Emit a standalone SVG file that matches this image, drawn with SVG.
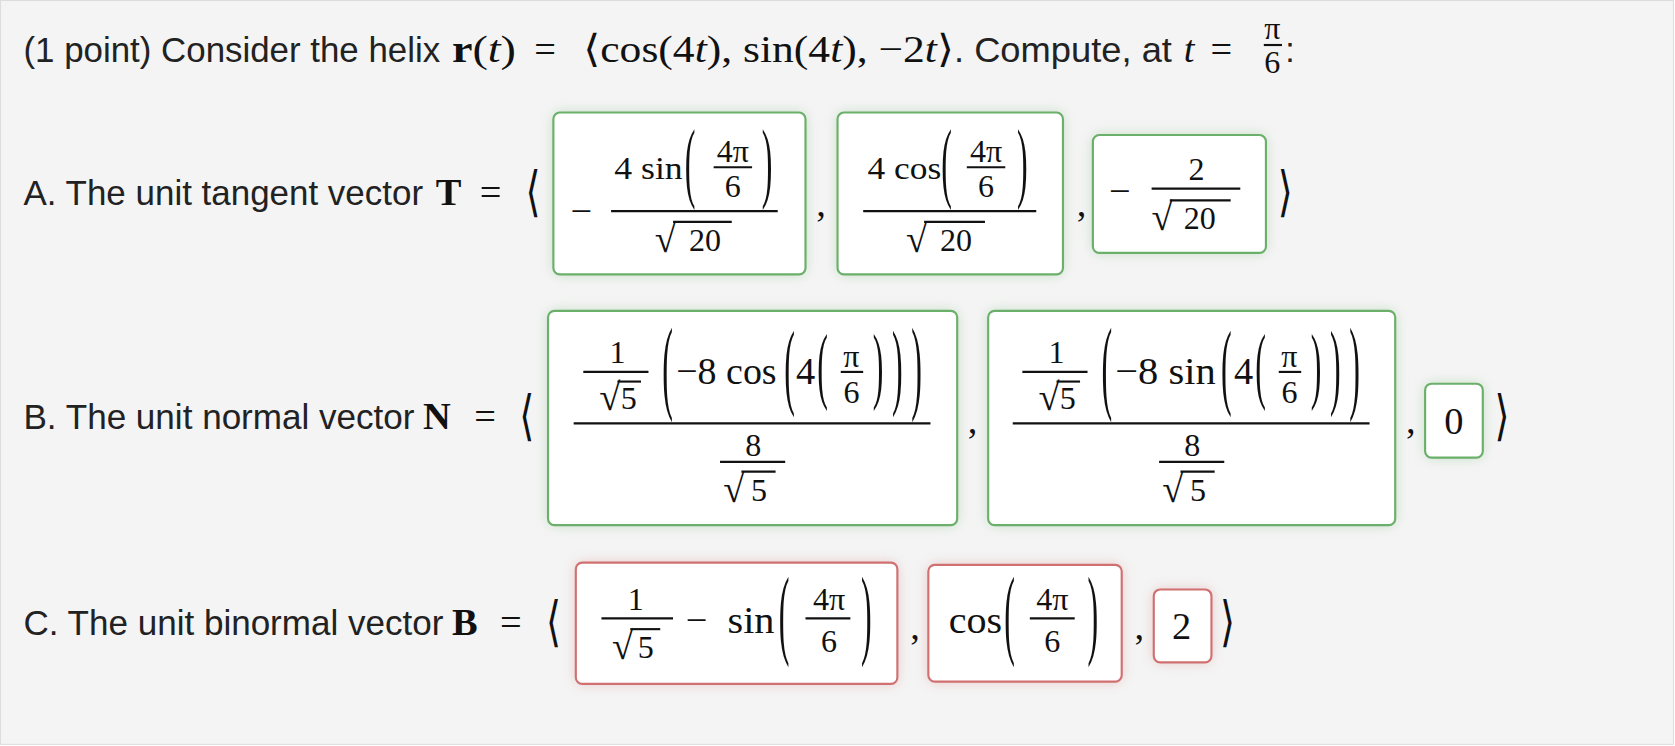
<svg xmlns="http://www.w3.org/2000/svg" width="1675" height="746" viewBox="0 0 1675 746">
<defs>
<style>
.t{font-family:"Liberation Sans",Arial,sans-serif;font-size:32px;fill:#222}
.m{font-family:"Liberation Serif","DejaVu Serif",serif;font-size:36px;fill:#111}
.s{font-family:"Liberation Serif","DejaVu Serif",serif;font-size:30px;fill:#111}
.q{font-family:"Liberation Serif","DejaVu Serif",serif;font-size:36px;fill:#111}
.c{text-anchor:middle}
.ln{stroke:#111;stroke-width:2}
.g{fill:#fff;stroke:#6aaf6a;stroke-width:2}
.r{fill:#fff;stroke:#d07070;stroke-width:2}
.gsh{fill:#6aaf6a;opacity:0.35}
.rsh{fill:#d07070;opacity:0.35}
</style>
<filter id="bl" x="-20%" y="-30%" width="140%" height="160%"><feGaussianBlur stdDeviation="6"/></filter>
</defs>
<rect width="1675" height="746" fill="#fff"/>
<g transform="scale(1.0683,1.0718)">
<rect x="0.5" y="0.5" width="1566" height="694" fill="#f4f4f4" stroke="#ddd"/>
<g id="title">
<text class="t" x="22" y="58" textLength="390" lengthAdjust="spacingAndGlyphs">(1 point) Consider the helix</text>
<text class="m" x="423" y="58" textLength="60" lengthAdjust="spacingAndGlyphs"><tspan font-weight="bold">r</tspan>(<tspan font-style="italic">t</tspan>)</text>
<text class="m" x="500" y="58">=</text>
<text class="m" x="546" y="58" textLength="347" lengthAdjust="spacingAndGlyphs">⟨cos(4<tspan font-style="italic">t</tspan>), sin(4<tspan font-style="italic">t</tspan>), −2<tspan font-style="italic">t</tspan>⟩</text>
<text class="t" x="893" y="58" textLength="204" lengthAdjust="spacingAndGlyphs">. Compute, at</text>
<text class="m" x="1108" y="58" font-style="italic">t</text>
<text class="m" x="1133" y="58">=</text>
<text class="s c" x="1191" y="36" font-size="22">π</text>
<line class="ln" x1="1183" y1="42" x2="1200" y2="42" stroke-width="1.5"/>
<text class="s c" x="1191" y="68" font-size="24">6</text>
<text class="t" x="1203" y="58">:</text>
</g>
<g id="rowA">
<text class="t" x="22" y="191" textLength="374" lengthAdjust="spacingAndGlyphs">A. The unit tangent vector</text>
<text class="m" x="408" y="191" font-weight="bold">T</text>
<text class="m" x="449" y="191">=</text>
<text class="m" transform="translate(492,196) scale(1,1.4)">⟨</text>
<g id="A1"><rect class="gsh" x="518" y="105" width="236" height="151" rx="6" filter="url(#bl)"/><rect class="g" x="518" y="105" width="236" height="151" rx="6"/>
<text class="s" x="575" y="167" textLength="64" lengthAdjust="spacingAndGlyphs">4 sin</text>
<text class="s" transform="translate(641,178) scale(1,2.75)">(</text>
<text class="s c" x="686" y="151">4π</text><line class="ln" x1="668" y1="156" x2="704" y2="156"/><text class="s c" x="686" y="184">6</text>
<text class="s" transform="translate(713,178) scale(1,2.75)">)</text>
<text class="m" x="534" y="209">−</text>
<line class="ln" x1="572" y1="197" x2="728" y2="197"/>
<text class="q" x="613" y="235">√</text><line class="ln" x1="630" y1="207" x2="685" y2="207"/><text class="s" x="645" y="234">20</text></g>
<text class="m" x="764" y="202">,</text>
<g id="A2"><rect class="gsh" x="784" y="105" width="211" height="151" rx="6" filter="url(#bl)"/><rect class="g" x="784" y="105" width="211" height="151" rx="6"/>
<text class="s" x="812" y="167" textLength="69" lengthAdjust="spacingAndGlyphs">4 cos</text>
<text class="s" transform="translate(881,178) scale(1,2.75)">(</text>
<text class="s c" x="923" y="151">4π</text><line class="ln" x1="905" y1="156" x2="941" y2="156"/><text class="s c" x="923" y="184">6</text>
<text class="s" transform="translate(952,178) scale(1,2.75)">)</text>
<line class="ln" x1="808" y1="197" x2="970" y2="197"/>
<text class="q" x="848" y="235">√</text><line class="ln" x1="865" y1="207" x2="922" y2="207"/><text class="s" x="880" y="234">20</text></g>
<text class="m" x="1008" y="202">,</text>
<g id="A3"><rect class="gsh" x="1023" y="126" width="162" height="110" rx="6" filter="url(#bl)"/><rect class="g" x="1023" y="126" width="162" height="110" rx="6"/>
<text class="m" x="1038" y="190">−</text>
<text class="s c" x="1120" y="168">2</text>
<line class="ln" x1="1078" y1="176" x2="1161" y2="176"/>
<text class="q" x="1078" y="215">√</text><line class="ln" x1="1095" y1="187" x2="1152" y2="187"/><text class="s" x="1108" y="214">20</text></g>
<text class="m" transform="translate(1196,196) scale(1,1.4)">⟩</text>
</g>
<g id="rowB">
<text class="t" x="22" y="400" textLength="366" lengthAdjust="spacingAndGlyphs">B. The unit normal vector</text>
<text class="m" x="396" y="400" font-weight="bold">N</text>
<text class="m" x="444" y="400">=</text>
<text class="m" transform="translate(486,405) scale(1,1.4)">⟨</text>
<g id="B1"><rect class="gsh" x="513" y="290" width="383" height="200" rx="6" filter="url(#bl)"/><rect class="g" x="513" y="290" width="383" height="200" rx="6"/>
<text class="s c" x="578" y="339">1</text><line class="ln" x1="546" y1="347" x2="607" y2="347"/>
<text class="q" x="561" y="383">√</text><line class="ln" x1="578" y1="356" x2="600" y2="356"/><text class="s" x="581" y="382">5</text>
<text class="s" transform="translate(620,373) scale(1,3.25)">(</text>
<text class="m" x="633" y="358" textLength="94" lengthAdjust="spacingAndGlyphs">−8 cos</text>
<text class="s" transform="translate(734,370) scale(1,2.93)">(</text>
<text class="m" x="745" y="358">4</text>
<text class="s" transform="translate(765,367) scale(1,2.6)">(</text>
<text class="s c" x="797" y="342">π</text><line class="ln" x1="787" y1="347" x2="808" y2="347"/><text class="s c" x="797" y="376">6</text>
<text class="s" transform="translate(817,367) scale(1,2.6)">)</text>
<text class="s" transform="translate(835,370) scale(1,2.93)">)</text>
<text class="s" transform="translate(853,373) scale(1,3.25)">)</text>
<line class="ln" x1="537" y1="395" x2="871" y2="395"/>
<text class="s c" x="705" y="425">8</text><line class="ln" x1="674" y1="431" x2="735" y2="431"/>
<text class="q" x="677" y="468">√</text><line class="ln" x1="694" y1="440" x2="726" y2="440"/><text class="s" x="703" y="467">5</text></g>
<text class="m" x="906" y="404">,</text>
<g id="B2"><rect class="gsh" x="925" y="290" width="381" height="200" rx="6" filter="url(#bl)"/><rect class="g" x="925" y="290" width="381" height="200" rx="6"/>
<text class="s c" x="989" y="339">1</text><line class="ln" x1="957" y1="347" x2="1018" y2="347"/>
<text class="q" x="972" y="383">√</text><line class="ln" x1="989" y1="356" x2="1011" y2="356"/><text class="s" x="992" y="382">5</text>
<text class="s" transform="translate(1031,373) scale(1,3.25)">(</text>
<text class="m" x="1044" y="358" textLength="94" lengthAdjust="spacingAndGlyphs">−8 sin</text>
<text class="s" transform="translate(1143,370) scale(1,2.93)">(</text>
<text class="m" x="1155" y="358">4</text>
<text class="s" transform="translate(1175,367) scale(1,2.6)">(</text>
<text class="s c" x="1207" y="342">π</text><line class="ln" x1="1197" y1="347" x2="1218" y2="347"/><text class="s c" x="1207" y="376">6</text>
<text class="s" transform="translate(1227,367) scale(1,2.6)">)</text>
<text class="s" transform="translate(1245,370) scale(1,2.93)">)</text>
<text class="s" transform="translate(1263,373) scale(1,3.25)">)</text>
<line class="ln" x1="948" y1="395" x2="1282" y2="395"/>
<text class="s c" x="1116" y="425">8</text><line class="ln" x1="1085" y1="431" x2="1146" y2="431"/>
<text class="q" x="1088" y="468">√</text><line class="ln" x1="1105" y1="440" x2="1137" y2="440"/><text class="s" x="1114" y="467">5</text></g>
<text class="m" x="1316" y="404">,</text>
<g id="B3"><rect class="gsh" x="1334" y="358" width="54" height="69" rx="6" filter="url(#bl)"/><rect class="g" x="1334" y="358" width="54" height="69" rx="6"/>
<text class="m c" x="1361" y="405">0</text></g>
<text class="m" transform="translate(1399,405) scale(1,1.4)">⟩</text>
</g>
<g id="rowC">
<text class="t" x="22" y="592" textLength="393" lengthAdjust="spacingAndGlyphs">C. The unit binormal vector</text>
<text class="m" x="423" y="592" font-weight="bold">B</text>
<text class="m" x="468" y="592">=</text>
<text class="m" transform="translate(511,597) scale(1,1.4)">⟨</text>
<g id="C1"><rect class="rsh" x="539" y="525" width="301" height="113" rx="6" filter="url(#bl)"/><rect class="r" x="539" y="525" width="301" height="113" rx="6"/>
<text class="s c" x="595" y="569">1</text><line class="ln" x1="563" y1="577" x2="630" y2="577"/>
<text class="q" x="573" y="615">√</text><line class="ln" x1="590" y1="587" x2="618" y2="587"/><text class="s" x="597" y="614">5</text>
<text class="m" x="642" y="591">−</text>
<text class="m" x="681" y="591" textLength="44" lengthAdjust="spacingAndGlyphs">sin</text>
<text class="s" transform="translate(729,603) scale(1,3.07)">(</text>
<text class="s c" x="776" y="569">4π</text><line class="ln" x1="754" y1="577" x2="796" y2="577"/><text class="s c" x="776" y="608">6</text>
<text class="s" transform="translate(806,603) scale(1,3.07)">)</text></g>
<text class="m" x="852" y="596">,</text>
<g id="C2"><rect class="rsh" x="869" y="527" width="181" height="109" rx="6" filter="url(#bl)"/><rect class="r" x="869" y="527" width="181" height="109" rx="6"/>
<text class="m" x="888" y="591" textLength="50" lengthAdjust="spacingAndGlyphs">cos</text>
<text class="s" transform="translate(940,603) scale(1,3.07)">(</text>
<text class="s c" x="985" y="569">4π</text><line class="ln" x1="964" y1="577" x2="1006" y2="577"/><text class="s c" x="985" y="608">6</text>
<text class="s" transform="translate(1018,603) scale(1,3.07)">)</text></g>
<text class="m" x="1062" y="596">,</text>
<g id="C3"><rect class="rsh" x="1080" y="550" width="54" height="68" rx="6" filter="url(#bl)"/><rect class="r" x="1080" y="550" width="54" height="68" rx="6"/>
<text class="m c" x="1106" y="596">2</text></g>
<text class="m" transform="translate(1142,597) scale(1,1.4)">⟩</text>
</g>
</g>
</svg>
